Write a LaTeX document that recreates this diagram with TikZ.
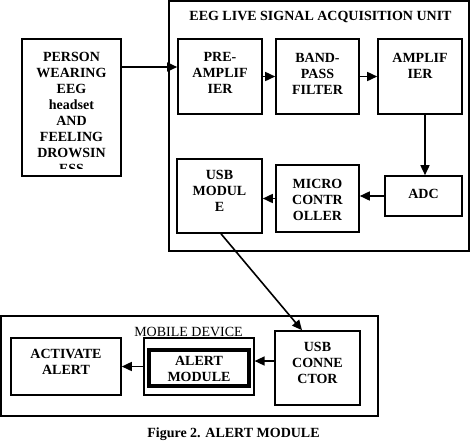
\documentclass[tikz,border=0pt]{standalone}
\usepackage{fontspec}
\setmainfont{Liberation Serif}
\usetikzlibrary{positioning,arrows.meta,calc}

\begin{document}
\begin{tikzpicture}[
  x=1pt, y=-1pt,
  font=\fontsize{14}{16}\selectfont\bfseries,
  blk/.style={draw=black, line width=1.6pt, inner sep=0pt},
  txt/.style={align=center, inner sep=0pt},
  frame/.style={draw=black, line width=1.8pt, inner sep=0pt},
  arr/.style={-{Triangle[length=10pt,width=9pt]}, line width=1.6pt}
]
\useasboundingbox (0,0) rectangle (474,440);
% EEG acquisition unit
\node[frame, minimum width=300, minimum height=250] (unit) at (319,126) {};
\node[txt] (unit-t) at (320.5,17) {EEG LIVE SIGNAL ACQUISITION UNIT};
\node[blk, minimum width=84, minimum height=75] (pre) at (220,76.5) {};
\node[txt, below=14pt of pre.north] (pre-t) {PRE-\\AMPLIF\\IER};
\node[blk, minimum width=83, minimum height=75] (band) at (317.5,76.5) {};
\node[txt, below=15pt of band.north] (band-t) {BAND-\\PASS\\FILTER};
\node[blk, minimum width=84, minimum height=75] (amp) at (420,76.5) {};
\node[txt, below=15pt of amp.north] (amp-t) {AMPLIF\\IER};
\node[blk, minimum width=77, minimum height=40] (adc) at (423.5,196) {};
\node[txt, below=14pt of adc.north] (adc-t) {ADC};
\node[blk, minimum width=83, minimum height=67] (micro) at (317.5,198.5) {};
\node[txt, below=15pt of micro.north] (micro-t) {MICRO\\CONTR\\OLLER};
\node[blk, minimum width=85, minimum height=74] (usbmod) at (219.5,196) {};
\node[txt, below=12pt of usbmod.north] (usbmod-t) {USB\\MODUL\\E};
% person (text runs past the frame)
\node[blk, minimum width=99, minimum height=137] (person) at (71.5,107.5) {};
\begin{scope}
  \clip (person.north west) rectangle ($(person.south east)+(0,-8)$);
  \node[txt, below=14pt of person.north] (person-t) {PERSON\\WEARING\\EEG\\headset\\AND\\FEELING\\DROWSIN\\ESS};
\end{scope}
% mobile side
\node[frame, minimum width=377, minimum height=100] (phone) at (189.5,366) {};
\node[txt, font=\fontsize{14}{16}\selectfont] (mobile-t) at (188.5,332) {MOBILE DEVICE};
\node[blk, line width=1.2pt, minimum width=110, minimum height=57] (mobile) at (199,366.5) {};
\node[blk, line width=4pt, minimum width=100, minimum height=36] (alert) at (199,368) {};
\node[txt, below=8pt of alert.north] (alert-t) {ALERT\\MODULE};
\node[blk, minimum width=110, minimum height=57] (act) at (66,366.5) {};
\node[txt, below=12pt of act.north] (act-t) {ACTIVATE\\ALERT};
\node[blk, minimum width=85, minimum height=74] (conn) at (317.5,368) {};
\node[txt, below=12pt of conn.north] (conn-t) {USB\\CONNE\\CTOR};
\node[txt] (caption) at (233.5,434) {Figure 2. ALERT MODULE};
% connectors
\draw[arr] (person.east |- 0,67) -- (pre.west |- 0,67);
\draw[arr] (pre) -- (band);
\draw[arr] (band) -- (amp);
\draw[arr] (amp.south -| 425,0) -- (adc.north -| 425,0);
\draw[arr] (adc) -- (micro.east |- adc);
\draw[arr] (micro.west) -- (usbmod.east |- micro.west);
\draw[arr] ($(usbmod.south)+(1.5,0)$) -- ($(conn.north)+(-15.5,0)$);
\draw[arr] (conn.west |- 0,361) -- (mobile.east |- 0,361);
\draw[arr] (mobile.west) -- (act.east);
\end{tikzpicture}
\end{document}
